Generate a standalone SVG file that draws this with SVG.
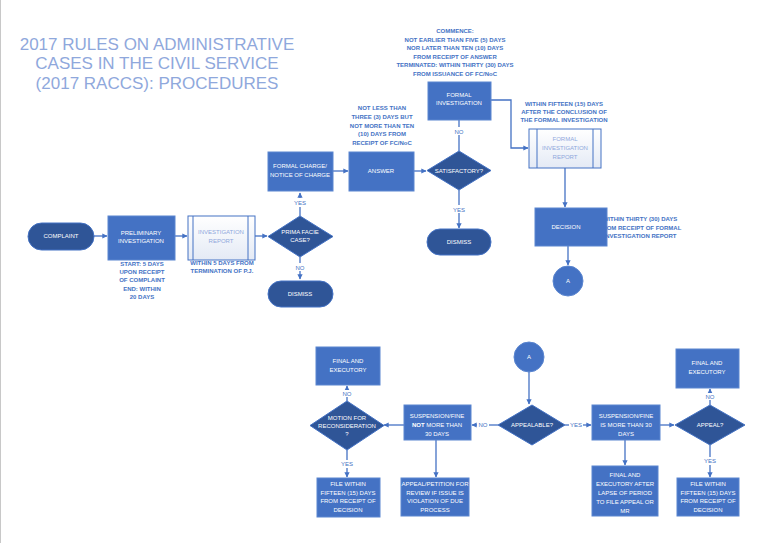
<svg xmlns="http://www.w3.org/2000/svg" width="768" height="543" viewBox="0 0 768 543">
<defs>
<marker id="ah" viewBox="0 0 10 10" refX="9" refY="5" markerWidth="4" markerHeight="4" orient="auto"><path d="M0,0L10,5L0,10z" fill="#4472c4"/></marker>
<linearGradient id="rg" x1="0" y1="0" x2="0" y2="1"><stop offset="0" stop-color="#ffffff"/><stop offset="1" stop-color="#e4eaf5"/></linearGradient>
</defs>
<style>
.t{font-family:"Liberation Sans",Arial,sans-serif;font-size:6px;fill:#fff;text-anchor:middle}
.lt{font-family:"Liberation Sans",Arial,sans-serif;font-size:6px;fill:#8fa8dc;text-anchor:middle}
.n{font-family:"Liberation Sans",Arial,sans-serif;font-size:6px;fill:#4472c4;text-anchor:middle;font-weight:bold}
.c{font-family:"Liberation Sans",Arial,sans-serif;font-size:6px;fill:#4472c4;text-anchor:middle}
.cl{font-family:"Liberation Sans",Arial,sans-serif;font-size:6px;fill:#8fa8dc;text-anchor:middle}
.box{fill:#4472c4;stroke:#5b86d0;stroke-width:1}
.dk{fill:#2f5597;stroke:#4472c4;stroke-width:1}
.rep{fill:url(#rg);stroke:#4472c4;stroke-width:1}
.ln{fill:none;stroke:#4472c4;stroke-width:1.3;marker-end:url(#ah)}
.pl{fill:none;stroke:#4472c4;stroke-width:1.3}
.title{font-family:"Liberation Sans",Arial,sans-serif;font-size:17px;fill:#8fa8dc;text-anchor:middle}
</style>
<rect width="768" height="543" fill="#fff"/>
<line x1="0.5" y1="0" x2="0.5" y2="543" stroke="#c8c8c8"/>
<g id="title">
<text class="title" x="157" y="50">2017 RULES ON ADMINISTRATIVE</text>
<text class="title" x="157" y="69">CASES IN THE CIVIL SERVICE</text>
<text class="title" x="157" y="89">(2017 RACCS): PROCEDURES</text>
</g>
<g id="connectors">
<path class="ln" d="M94,236H107"/>
<path class="ln" d="M175,236H187"/>
<path class="ln" d="M255,236H267"/>
<path class="ln" d="M300,216V193"/>
<path class="ln" d="M300,257V279"/>
<path class="ln" d="M333,171H348"/>
<path class="ln" d="M414,171H426"/>
<path class="pl" d="M459,151V120"/>
<path class="ln" d="M459,190V228"/>
<path class="ln" d="M491,100H511V148H528"/>
<path class="ln" d="M565,168V207"/>
<path class="ln" d="M568,246V265"/>
<path class="ln" d="M529,372V404"/>
<path class="ln" d="M498,425H472"/>
<path class="ln" d="M565,425H591"/>
<path class="ln" d="M404,425H384"/>
<path class="ln" d="M347,401V386"/>
<path class="ln" d="M347,450V477"/>
<path class="ln" d="M436,440V477"/>
<path class="ln" d="M660,425H674"/>
<path class="ln" d="M710,405V389"/>
<path class="ln" d="M710,445V477"/>
<path class="ln" d="M625,440V465"/>
<rect x="293" y="198" width="14" height="9" fill="#fff"/><text class="c" x="300" y="205">YES</text>
<rect x="294" y="263" width="12" height="8" fill="#fff"/><text class="c" x="300" y="270">NO</text>
<rect x="453" y="127" width="12" height="8" fill="#fff"/><text class="c" x="459" y="134">NO</text>
<rect x="452" y="205" width="14" height="8" fill="#fff"/><text class="c" x="459" y="212">YES</text>
<rect x="477" y="421" width="12" height="8" fill="#fff"/><text class="c" x="483" y="427">NO</text>
<rect x="569" y="421" width="14" height="8" fill="#fff"/><text class="c" x="576" y="427">YES</text>
<rect x="341" y="390" width="12" height="7" fill="#fff"/><text class="c" x="347" y="396">NO</text>
<rect x="340" y="460" width="14" height="8" fill="#fff"/><text class="c" x="347" y="466">YES</text>
<rect x="704" y="393" width="12" height="7" fill="#fff"/><text class="c" x="710" y="399">NO</text>
<rect x="703" y="457" width="14" height="8" fill="#fff"/><text class="c" x="710" y="463">YES</text>
</g>
<g id="complaint"><rect class="dk" x="28" y="223" width="66" height="27" rx="13.5"/><text class="t" x="61" y="238">COMPLAINT</text></g>
<g id="prelim"><rect class="box" x="108" y="216" width="67" height="44"/><text class="t" x="141" y="235">PRELIMINARY</text><text class="t" x="141" y="243">INVESTIGATION</text></g>
<g id="invreport"><rect class="rep" x="188" y="216" width="67" height="44"/><line x1="193" y1="216" x2="193" y2="260" stroke="#4472c4"/><line x1="248" y1="216" x2="248" y2="260" stroke="#4472c4"/><text class="cl" x="221" y="234">INVESTIGATION</text><text class="cl" x="221" y="243">REPORT</text></g>
<g id="primafacie"><path class="dk" d="M300,216L333,236.5L300,257L268,236.5z"/><text class="t" x="300" y="234">PRIMA FACIE</text><text class="t" x="300" y="242">CASE?</text></g>
<g id="dismiss1"><rect class="dk" x="268" y="281" width="65" height="26" rx="13"/><text class="t" x="300" y="296">DISMISS</text></g>
<g id="formalcharge"><rect class="box" x="268" y="152" width="65" height="39"/><text class="t" x="300" y="168">FORMAL CHARGE/</text><text class="t" x="300" y="177">NOTICE OF CHARGE</text></g>
<g id="answer"><rect class="box" x="349" y="152" width="65" height="39"/><text class="t" x="381" y="173">ANSWER</text></g>
<g id="satisfactory"><path class="dk" d="M459,151L491,170.5L459,190L427,170.5z"/><text class="t" x="459" y="173">SATISFACTORY?</text></g>
<g id="dismiss2"><rect class="dk" x="427" y="229" width="64" height="26" rx="13"/><text class="t" x="459" y="244">DISMISS</text></g>
<g id="formalinv"><rect class="box" x="428" y="82" width="63" height="38"/><text class="t" x="459" y="97">FORMAL</text><text class="t" x="459" y="105">INVESTIGATION</text></g>
<g id="fireport"><rect class="rep" x="529" y="129" width="72" height="39"/><line x1="537" y1="129" x2="537" y2="168" stroke="#4472c4"/><line x1="593" y1="129" x2="593" y2="168" stroke="#4472c4"/><text class="cl" x="565" y="141">FORMAL</text><text class="cl" x="565" y="150">INVESTIGATION</text><text class="cl" x="565" y="159">REPORT</text></g>
<g id="decision"><rect class="box" x="535" y="208" width="72" height="38"/><text class="t" x="566" y="229">DECISION</text></g>
<g id="a1"><circle class="box" cx="568" cy="281" r="15"/><text class="t" x="568" y="283">A</text></g>
<g id="notes">
<text class="n" x="142" y="266">START: 5 DAYS</text><text class="n" x="142" y="274">UPON RECEIPT</text><text class="n" x="142" y="282">OF COMPLAINT</text><text class="n" x="142" y="291">END: WITHIN</text><text class="n" x="142" y="299">20 DAYS</text>
<text class="n" x="222" y="265">WITHIN 5 DAYS FROM</text><text class="n" x="222" y="273">TERMINATION OF P.J.</text>
<text class="n" x="382" y="110">NOT LESS THAN</text><text class="n" x="382" y="119">THREE (3) DAYS BUT</text><text class="n" x="382" y="128">NOT MORE THAN TEN</text><text class="n" x="382" y="136">(10) DAYS FROM</text><text class="n" x="382" y="145">RECEIPT OF FC/NoC</text>
<text class="n" x="455" y="33">COMMENCE:</text><text class="n" x="455" y="42">NOT EARLIER THAN FIVE (5) DAYS</text><text class="n" x="455" y="50">NOR LATER THAN TEN (10) DAYS</text><text class="n" x="455" y="59">FROM RECEIPT OF ANSWER</text><text class="n" x="455" y="67">TERMINATED: WITHIN THIRTY (30) DAYS</text><text class="n" x="455" y="76">FROM ISSUANCE OF FC/NoC</text>
<text class="n" x="564" y="106">WITHIN FIFTEEN (15) DAYS</text><text class="n" x="564" y="114">AFTER THE CONCLUSION OF</text><text class="n" x="564" y="122">THE FORMAL INVESTIGATION</text>
<text class="n" x="640" y="221">WITHIN THIRTY (30) DAYS</text><text class="n" x="640" y="230">FROM RECEIPT OF FORMAL</text><text class="n" x="640" y="238">INVESTIGATION REPORT</text>
</g>
<g id="a2"><circle class="box" cx="529" cy="357" r="15"/><text class="t" x="529" y="359">A</text></g>
<g id="appealable"><path class="dk" d="M532,405L565,425L532,445L498,425z"/><text class="t" x="532" y="427">APPEALABLE?</text></g>
<g id="suspnot"><rect class="box" x="404" y="405" width="67" height="35"/><text class="t" x="437" y="418">SUSPENSION/FINE</text><text class="t" x="437" y="427"><tspan font-weight="bold">NOT</tspan> MORE THAN</text><text class="t" x="437" y="436">30 DAYS</text></g>
<g id="motion"><path class="dk" d="M347,401L384,425.5L347,450L310,425.5z"/><text class="t" x="347" y="420">MOTION FOR</text><text class="t" x="347" y="428">RECONSIDERATION</text><text class="t" x="347" y="436">?</text></g>
<g id="final1"><rect class="box" x="316" y="347" width="64" height="38"/><text class="t" x="348" y="363">FINAL AND</text><text class="t" x="348" y="372">EXECUTORY</text></g>
<g id="file1"><rect class="box" x="317" y="478" width="63" height="39"/><text class="t" x="348" y="486">FILE WITHIN</text><text class="t" x="348" y="495">FIFTEEN (15) DAYS</text><text class="t" x="348" y="503">FROM RECEIPT OF</text><text class="t" x="348" y="512">DECISION</text></g>
<g id="petition"><rect class="box" x="401" y="478" width="68" height="38"/><text class="t" x="435" y="486">APPEAL/PETITION FOR</text><text class="t" x="435" y="495">REVIEW IF ISSUE IS</text><text class="t" x="435" y="503">VIOLATION OF DUE</text><text class="t" x="435" y="512">PROCESS</text></g>
<g id="suspmore"><rect class="box" x="592" y="405" width="68" height="35"/><text class="t" x="626" y="418">SUSPENSION/FINE</text><text class="t" x="626" y="427">IS MORE THAN 30</text><text class="t" x="626" y="436">DAYS</text></g>
<g id="finalafter"><rect class="box" x="592" y="466" width="66" height="50"/><text class="t" x="625" y="477">FINAL AND</text><text class="t" x="625" y="486">EXECUTORY AFTER</text><text class="t" x="625" y="495">LAPSE OF PERIOD</text><text class="t" x="625" y="504">TO FILE APPEAL OR</text><text class="t" x="625" y="513">MR</text></g>
<g id="appeal"><path class="dk" d="M710,405L745,425L710,445L675,425z"/><text class="t" x="710" y="427">APPEAL?</text></g>
<g id="final2"><rect class="box" x="676" y="349" width="63" height="39"/><text class="t" x="707" y="365">FINAL AND</text><text class="t" x="707" y="374">EXECUTORY</text></g>
<g id="file2"><rect class="box" x="677" y="478" width="62" height="38"/><text class="t" x="708" y="486">FILE WITHIN</text><text class="t" x="708" y="495">FIFTEEN (15) DAYS</text><text class="t" x="708" y="503">FROM RECEIPT OF</text><text class="t" x="708" y="512">DECISION</text></g>
</svg>
